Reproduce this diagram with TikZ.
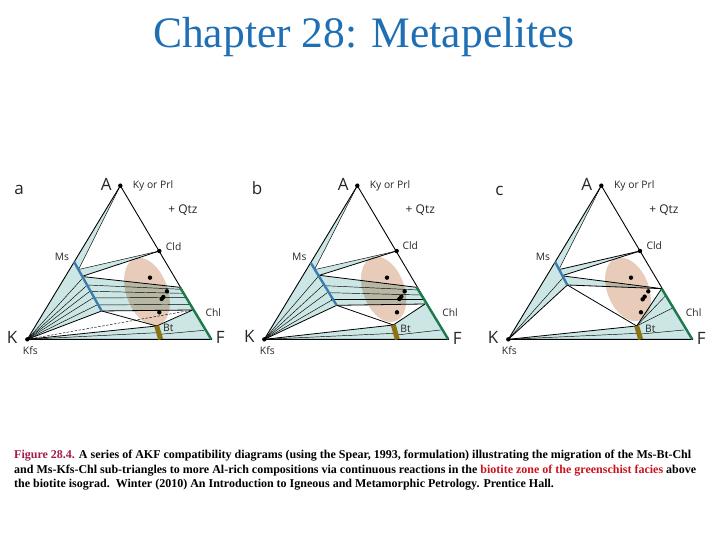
\documentclass[tikz,border=0pt]{standalone}
\usepackage{fontspec}
\setmainfont{Liberation Serif}
\newfontfamily\lblfont{Open Sans}
\usetikzlibrary{calc}
\definecolor{teal1}{HTML}{CBE6E4}
\definecolor{oval}{HTML}{E8CBB8}
\definecolor{bluebar}{HTML}{3C7DAE}
\definecolor{greenbar}{HTML}{1D7A4C}
\definecolor{brownbar}{HTML}{8C7214}
\definecolor{titleblue}{HTML}{1F6FB5}
\definecolor{figred}{HTML}{A51C48}
\definecolor{capred}{HTML}{C8141E}
\tikzset{
  x=1pt,y=-1pt,
  panel/.style={x=0.3333pt,y=-0.3333pt},
  fillarea/.style={fill=teal1,draw=none},
  tie/.style={draw=black,line width=0.45pt},
  edge/.style={draw=black,line width=0.9pt},
  heavy/.style={draw=black,line width=0.8pt},
  dashtie/.style={draw=black,line width=0.45pt,dash pattern=on 2.5pt off 1.5pt},
  bluebarline/.style={draw=bluebar,line width=2.4pt},
  greenbarline/.style={draw=greenbar,line width=2.4pt},
  brownbarline/.style={draw=brownbar,line width=5pt},
  ovalshape/.style={fill=oval,draw=none,blend mode=multiply},
  phase/.style={fill=black,circle,inner sep=0pt,minimum size=4.4pt},
  big/.style={font=\lblfont\fontsize{17}{17}\selectfont,inner sep=0pt,text=black!85},
  small/.style={font=\lblfont\fontsize{10.3}{10}\selectfont,inner sep=0pt,text=black!85},
  qtzlabel/.style={font=\lblfont\fontsize{12}{12}\selectfont,inner sep=0pt,text=black!85},
  capline/.style={anchor=west,inner sep=0pt,font=\bfseries\fontsize{12}{13}\selectfont}
}
\begin{document}
\begin{tikzpicture}
\useasboundingbox (0,0) rectangle (720,540);
\fill[white] (0,0) rectangle (720,540);
\node[anchor=center,inner sep=0pt,text=titleblue,font=\fontsize{43.5}{46}\selectfont] (title) at (364,37) {Chapter 28: Metapelites};

% ---------- panel a
\begin{scope}[shift={(0,170)},panel]
\coordinate (A) at (361,47); \coordinate (K) at (82,508); \coordinate (F) at (634,508);
\coordinate (Cld) at (478,243); \coordinate (Ms) at (222,275); \coordinate (MsE) at (305,423);
\coordinate (ChT) at (540,352); \coordinate (ChE) at (578,420); \coordinate (BtT) at (470,468); \coordinate (BtB) at (482,508);
\fill[fillarea] (K)--(A)--(236,298)--(MsE)--cycle;
\fill[fillarea] (Cld)--(238,298)--(250,318)--cycle;
\fill[fillarea] (250,320)--(MsE)--(ChE)--(ChT)--cycle;
\fill[fillarea] (BtT)--(ChE)--(F)--(BtB)--cycle;
\fill[fillarea] (K)--(BtT)--(BtB)--cycle;
\foreach \p in {(250,322),(262,345),(272,362),(282,382),(295,403)} \draw[tie] (K)--\p;
\draw[tie] (A)--(236,298);
\draw[tie] (Cld)--(238,298); \draw[heavy] (Cld)--(250,318);
\draw[heavy] (250,320)--(ChT);
\draw[tie] (262,345)--(545,358);
\draw[tie] (272,364)--(551,370);
\draw[tie] (282,384)--(556,382);
\draw[tie] (295,405)--(568,403);
\draw[heavy] (MsE)--(ChE);
\draw[heavy] (K)--(MsE)--(BtT);
\draw[dashtie] (K)--(ChE);
\draw[heavy] (BtT)--(ChE);
\draw[heavy] (K)--(BtT);
\draw[tie] (K)--(474,488);
\draw[tie] (480,493)--(612,481);
\draw[edge] (K)--(A)--(F)--cycle;
\draw[bluebarline] (Ms)--(MsE);
\draw[greenbarline] (ChT)--(F);
\draw[brownbarline] (BtT)--(BtB);
\fill[ovalshape] (441,365) ellipse[x radius=106,y radius=62,rotate=-70];
\node[phase] (a1) at (A) {}; \node[phase] (a2) at (Cld) {}; \node[phase] (a3) at (K) {};
\foreach \p in {(450,323),(501,364),(490,381),(485,387),(478,427)} \node[phase] at \p {};
\node[big] (ta) at (57,60) {a};
\node[big] (tA) at (319,43) {A}; \node[big] (tK) at (36,503) {K}; \node[big] (tF) at (661,503) {F};
\node[small] (tky) at (459,48) {Ky or Prl};
\node[qtzlabel] (tq) at (549,120) {+ Qtz};
\node[small] (tcld) at (521,229) {Cld}; \node[small] (tms) at (186,262) {Ms};
\node[small] (tchl) at (640,429) {Chl}; \node[small] (tbt) at (505,475) {Bt};
\node[small] (tkfs) at (91,541) {Kfs};
\end{scope}

% ---------- panel b
\begin{scope}[shift={(240,170)},panel]
\coordinate (A) at (352,47); \coordinate (K) at (73,508); \coordinate (F) at (625,508);
\coordinate (Cld) at (470,243); \coordinate (Ms) at (212,278); \coordinate (MsE) at (290,406);
\coordinate (ChT) at (530,352); \coordinate (ChE) at (555,402); \coordinate (BtT) at (460,465); \coordinate (BtB) at (472,508);
\fill[fillarea] (K)--(A)--(224,298)--(MsE)--cycle;
\fill[fillarea] (Cld)--(228,298)--(238,316)--cycle;
\fill[fillarea] (238,316)--(MsE)--(ChE)--(ChT)--cycle;
\fill[fillarea] (BtT)--(ChE)--(F)--(BtB)--cycle;
\fill[fillarea] (K)--(BtT)--(BtB)--cycle;
\foreach \p in {(236,318),(250,345),(262,368),(276,390)} \draw[tie] (K)--\p;
\draw[tie] (A)--(224,298);
\draw[tie] (Cld)--(228,298); \draw[heavy] (Cld)--(238,316);
\draw[heavy] (238,316)--(ChT);
\draw[tie] (252,347)--(535,360);
\draw[tie] (262,368)--(540,375);
\draw[tie] (274,388)--(548,388);
\draw[heavy] (MsE)--(ChE);
\draw[heavy] (K)--(MsE)--(BtT);
\draw[heavy] (BtT)--(ChE);
\draw[heavy] (K)--(BtT);
\draw[tie] (K)--(464,490);
\draw[tie] (470,495)--(602,480);
\draw[edge] (K)--(A)--(F)--cycle;
\draw[bluebarline] (Ms)--(MsE);
\draw[greenbarline] (ChT)--(F);
\draw[brownbarline] (BtT)--(BtB);
\fill[ovalshape] (431,358) ellipse[x radius=102,y radius=62,rotate=-70];
\node[phase] (b1) at (A) {}; \node[phase] (b2) at (Cld) {}; \node[phase] (b3) at (K) {};
\foreach \p in {(441,323),(494,364),(484,380),(478,387),(471,427)} \node[phase] at \p {};
\node[big] (tb) at (51,55) {b};
\node[big] (tA) at (310,43) {A}; \node[big] (tK) at (28,500) {K}; \node[big] (tF) at (652,505) {F};
\node[small] (tky) at (450,47) {Ky or Prl};
\node[qtzlabel] (tq) at (541,120) {+ Qtz};
\node[small] (tcld) at (511,228) {Cld}; \node[small] (tms) at (178,262) {Ms};
\node[small] (tchl) at (630,429) {Chl}; \node[small] (tbt) at (497,476) {Bt};
\node[small] (tkfs) at (82,541) {Kfs};
\end{scope}

% ---------- panel c
\begin{scope}[shift={(480,170)},panel]
\coordinate (A) at (364,47); \coordinate (K) at (85,508); \coordinate (F) at (637,508);
\coordinate (Cld) at (480,243); \coordinate (Ms) at (225,275); \coordinate (MsE) at (262,345);
\coordinate (ChT) at (545,356); \coordinate (BtT) at (470,468); \coordinate (BtB) at (482,508);
\fill[fillarea] (K)--(A)--(238,296)--(MsE)--cycle;
\fill[fillarea] (Cld)--(240,298)--(250,316)--cycle;
\fill[fillarea] (250,318)--(MsE)--(ChT)--cycle;
\fill[fillarea] (BtT)--(ChT)--(F)--(BtB)--cycle;
\fill[fillarea] (K)--(BtT)--(BtB)--cycle;
\draw[tie] (K)--(250,322);
\draw[tie] (A)--(238,296);
\draw[heavy] (Cld)--(240,298); \draw[heavy] (Cld)--(250,316);
\draw[heavy] (250,318)--(ChT);
\draw[heavy] (MsE)--(ChT);
\draw[heavy] (K)--(MsE)--(BtT);
\draw[heavy] (BtT)--(ChT);
\draw[tie] (BtT)--(556,378);
\draw[tie] (BtT)--(582,412);
\draw[heavy] (K)--(BtT);
\draw[tie] (K)--(474,490);
\draw[tie] (484,492)--(612,480);
\draw[edge] (K)--(A)--(F)--cycle;
\draw[bluebarline] (Ms)--(MsE);
\draw[greenbarline] (ChT)--(F);
\draw[brownbarline] (BtT)--(BtB);
\fill[ovalshape] (444,358) ellipse[x radius=100,y radius=62,rotate=-68];
\node[phase] (c1) at (A) {}; \node[phase] (c2) at (Cld) {}; \node[phase] (c3) at (K) {};
\foreach \p in {(453,323),(505,364),(494,380),(488,388),(483,427)} \node[phase] at \p {};
\node[big] (tc) at (58,62) {c};
\node[big] (tA) at (320,43) {A}; \node[big] (tK) at (39,503) {K}; \node[big] (tF) at (664,505) {F};
\node[small] (tky) at (463,47) {Ky or Prl};
\node[qtzlabel] (tq) at (552,120) {+ Qtz};
\node[small] (tcld) at (523,228) {Cld}; \node[small] (tms) at (189,262) {Ms};
\node[small] (tchl) at (641,429) {Chl}; \node[small] (tbt) at (511,477) {Bt};
\node[small] (tkfs) at (88,541) {Kfs};
\end{scope}

\node[capline] (c1) at (14,455.5) {\textcolor{figred}{Figure 28.4.} A series of AKF compatibility diagrams (using the Spear, 1993, formulation) illustrating the migration of the Ms-Bt-Chl};
\node[capline] (c2) at (14,471) {and Ms-Kfs-Chl sub-triangles to more Al-rich compositions via continuous reactions in the \textcolor{capred}{biotite zone of the greenschist facies} above};
\node[capline] (c3) at (14,485) {the biotite isograd.\ \ Winter (2010) An Introduction to Igneous and Metamorphic Petrology. Prentice Hall.};
\end{tikzpicture}
\end{document}
